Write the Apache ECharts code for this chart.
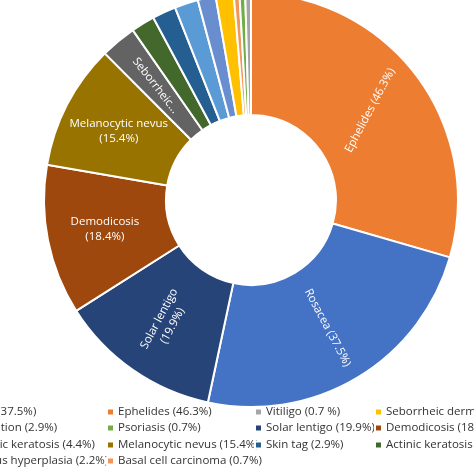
<!DOCTYPE html>
<html><head><meta charset="utf-8">
<script src="https://cdn.jsdelivr.net/npm/echarts@6/dist/echarts.min.js"></script>
<style>html,body{margin:0;background:#fff}#main{width:474px;height:474px}</style>
</head><body><div id="main"></div>
<script>
var myChart = echarts.init(document.getElementById("main"));

// pie order (clockwise from top)
var names = ['Ephelides (46.3%)','Rosacea (37.5%)','Solar lentigo (19.9%)','Demodicosis (18.4%)',
    'Melanocytic nevus (15.4%)','Seborrheic keratosis (4.4%)','Actinic keratosis (2.9%)','Skin tag (2.9%)',
    'Pigmentation (2.9%)','Sebaceous hyperplasia (2.2%)','Seborrheic dermatitis (2.2%)',
    'Basal cell carcinoma (0.7%)','Psoriasis (0.7%)','Vitiligo (0.7 %)'];
var values = [46.3,37.5,19.9,18.4,15.4,4.4,2.9,2.9,2.9,2.2,2.2,0.7,0.7,0.7];
var colors = ['#ed7d31','#4472c4','#264478','#9e480e','#997300','#636363','#43682b','#255e91',
    '#5b9bd5','#698ed0','#ffc000','#f1975a','#70ad47','#a5a5a5'];
var labels = ['Ephelides (46.3%)','Rosacea (37.5%)','Solar lentigo\n(19.9%)','Demodicosis\n(18.4%)',
    'Melanocytic nevus\n(15.4%)','Seborrheic...','','','','','','','',''];
var rotations = [62,-62,62,0,0,-52,0,0,0,0,0,0,0,0];

// legend columns
var legendCols = [
    ['Rosacea (37.5%)','Pigmentation (2.9%)','Seborrheic keratosis (4.4%)','Sebaceous hyperplasia (2.2%)'],
    ['Ephelides (46.3%)','Psoriasis (0.7%)','Melanocytic nevus (15.4%)','Basal cell carcinoma (0.7%)'],
    ['Vitiligo (0.7 %)','Solar lentigo (19.9%)','Skin tag (2.9%)'],
    ['Seborrheic dermatitis (2.2%)','Demodicosis (18.4%)','Actinic keratosis (2.9%)']
];
var legendLeft = [-62, 106, 254, 374];
var legendTop = [406, 422, 439, 455];

var data = names.map(function (n, i) {
    return {
        name: n, value: values[i],
        itemStyle: {color: colors[i]},
        label: {show: labels[i] !== '', formatter: labels[i], rotate: rotations[i]}
    };
});

var legends = [];
legendCols.forEach(function (col, c) {
    col.forEach(function (n, r) {
        legends.push({
            data: [n], left: legendLeft[c], top: legendTop[r], padding: 0,
            itemWidth: 7, itemHeight: 7, icon: 'rect', itemGap: 0,
            textStyle: {fontSize: 11.5, color: '#333', fontFamily: 'Open Sans', padding: [0, 0, 0, -1]},
            selectedMode: false
        });
    });
});

var option = {
    backgroundColor: '#fff',
    legend: legends,
    series: [{
        type: 'pie',
        center: [251, 200],
        radius: [85, 207],
        startAngle: 90,
        clockwise: true,
        avoidLabelOverlap: false,
        itemStyle: {borderColor: '#fff', borderWidth: 2},
        label: {position: 'inside', color: '#fff', fontSize: 11.5, fontFamily: 'Open Sans', lineHeight: 15},
        labelLine: {show: false},
        emphasis: {disabled: true},
        data: data
    }]
};

myChart.setOption(option);
</script></body></html>
